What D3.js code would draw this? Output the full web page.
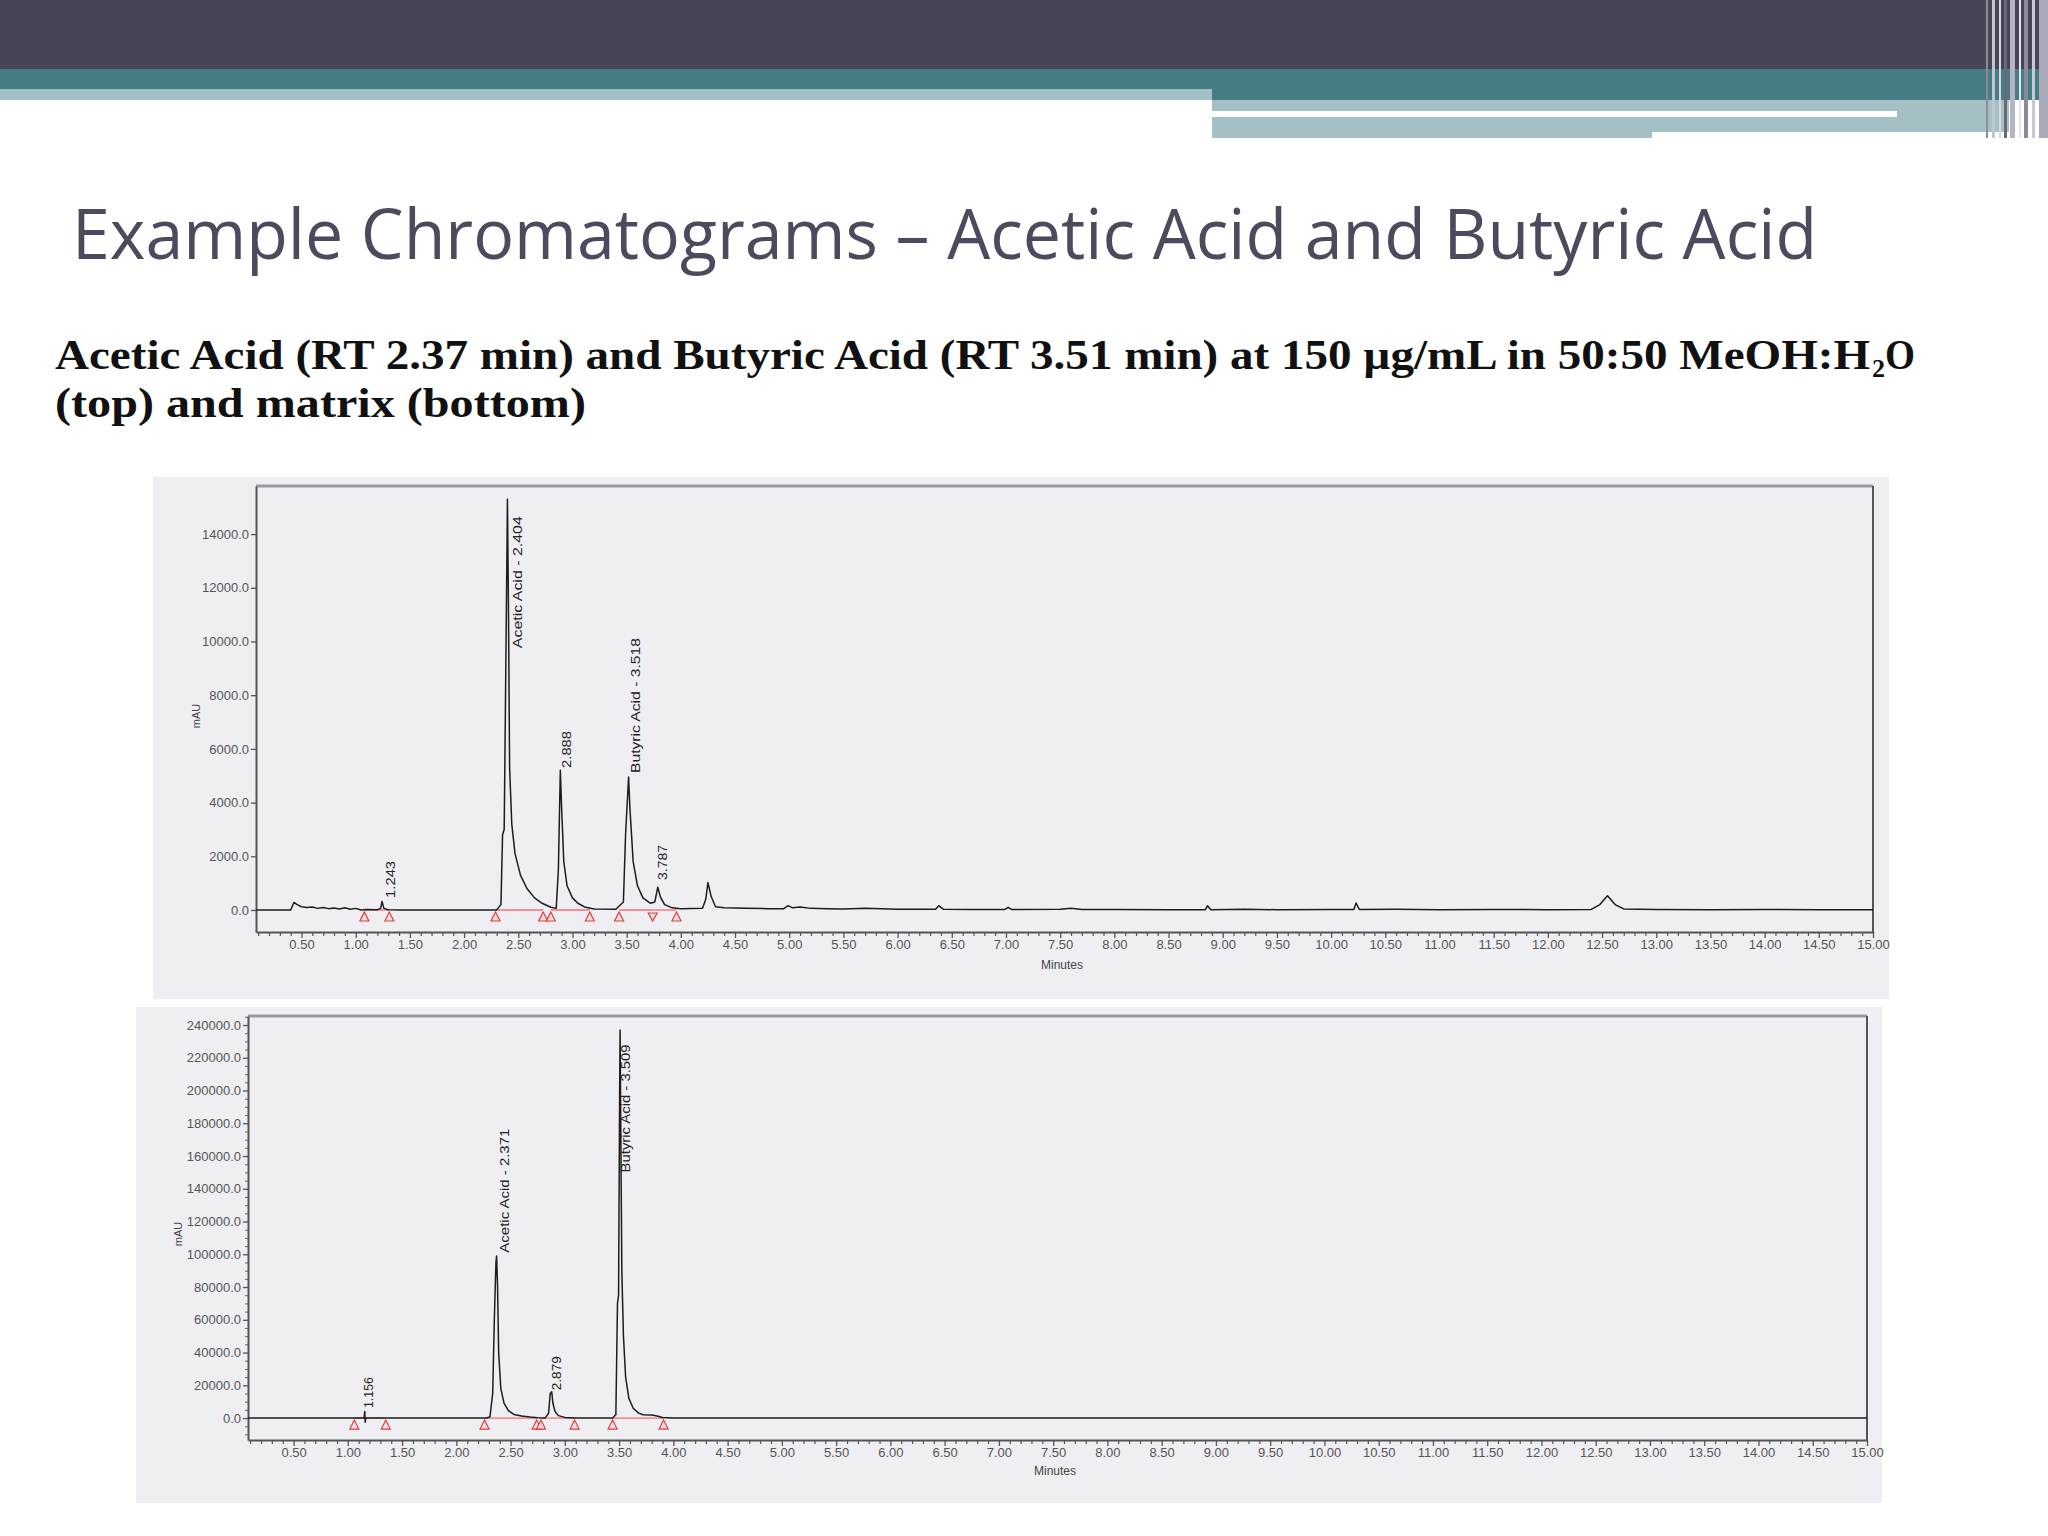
<!DOCTYPE html>
<html><head><meta charset="utf-8">
<script src="https://cdn.jsdelivr.net/npm/d3@7"></script>
<style>body{margin:0;background:#fff}svg{display:block}</style>
</head><body>
<script>
// ---------- text ----------
const titleText = "Example Chromatograms \u2013 Acetic Acid and Butyric Acid";
const subtitleLine1 = "Acetic Acid (RT 2.37 min) and Butyric Acid (RT 3.51 min) at 150 \u00b5g/mL in 50:50 MeOH:H";
const subtitleSub = "2";
const subtitleEnd = "O";
const subtitleLine2 = "(top) and matrix (bottom)";
const xAxisTitle = "Minutes";
const yAxisTitle = "mAU";

// ---------- axes ----------
const xTickValues = [0.5,1.0,1.5,2.0,2.5,3.0,3.5,4.0,4.5,5.0,5.5,6.0,6.5,7.0,7.5,8.0,8.5,9.0,9.5,10.0,10.5,11.0,11.5,12.0,12.5,13.0,13.5,14.0,14.5,15.0];
const xTickLabels = ["0.50","1.00","1.50","2.00","2.50","3.00","3.50","4.00","4.50","5.00","5.50","6.00","6.50","7.00","7.50","8.00","8.50","9.00","9.50","10.00","10.50","11.00","11.50","12.00","12.50","13.00","13.50","14.00","14.50","15.00"];
const topYTicks = [0,2000,4000,6000,8000,10000,12000,14000];
const topYTickLabels = ["0.0","2000.0","4000.0","6000.0","8000.0","10000.0","12000.0","14000.0"];
const bottomYTicks = [0,20000,40000,60000,80000,100000,120000,140000,160000,180000,200000,220000,240000];
const bottomYTickLabels = ["0.0","20000.0","40000.0","60000.0","80000.0","100000.0","120000.0","140000.0","160000.0","180000.0","200000.0","220000.0","240000.0"];

// ---------- traces [minutes, mAU] ----------
const topTrace = [[0.08,0],[0.40,0],[0.43,280],[0.46,200],[0.50,120],[0.55,90],[0.60,110],[0.65,60],[0.70,90],[0.75,50],[0.80,70],[0.85,40],[0.90,80],[0.95,30],[1.00,60],[1.05,0],[1.10,20],[1.20,10],[1.23,60],[1.243,320],[1.26,60],[1.30,10],[1.40,0],[2.30,0],[2.34,200],[2.355,2800],[2.37,3000],[2.385,9000],[2.40,15300],[2.41,11000],[2.42,5300],[2.44,3200],[2.47,2100],[2.52,1300],[2.58,800],[2.65,450],[2.72,250],[2.80,100],[2.85,60],[2.87,1500],[2.888,5200],[2.90,3800],[2.92,1800],[2.95,900],[3.00,450],[3.05,250],[3.12,100],[3.20,40],[3.40,30],[3.47,300],[3.49,2800],[3.518,4950],[3.53,3800],[3.56,1800],[3.60,900],[3.65,450],[3.72,250],[3.76,300],[3.787,850],[3.81,500],[3.85,200],[3.92,80],[4.00,50],[4.20,60],[4.23,400],[4.25,1020],[4.28,500],[4.32,120],[4.40,80],[4.60,60],[4.80,50],[4.95,50],[4.99,160],[5.03,80],[5.10,110],[5.20,60],[5.35,50],[5.50,40],[5.70,60],[6.00,30],[6.35,30],[6.38,160],[6.42,30],[6.70,20],[6.99,20],[7.02,100],[7.05,20],[7.50,30],[7.60,60],[7.70,20],[8.00,20],[8.50,10],[8.84,10],[8.86,160],[8.89,10],[9.20,30],[9.50,10],[10.00,20],[10.21,20],[10.23,260],[10.26,20],[10.60,30],[11.00,10],[11.50,20],[12.00,10],[12.40,20],[12.48,200],[12.55,530],[12.62,200],[12.70,40],[13.00,20],[13.50,10],[14.00,20],[14.50,10],[15.0,10]];
const bottomTrace = [[0.08,0],[1.150,0],[1.156,4000],[1.160,-2500],[1.166,0],[2.28,0],[2.31,800],[2.335,15000],[2.35,60000],[2.365,95000],[2.371,99000],[2.38,80000],[2.39,40000],[2.41,18000],[2.44,9000],[2.48,4500],[2.53,2200],[2.60,1200],[2.68,600],[2.75,200],[2.82,100],[2.85,3000],[2.865,15000],[2.879,16000],[2.89,9000],[2.91,4000],[2.94,1500],[3.00,400],[3.10,100],[3.44,0],[3.47,2000],[3.485,70000],[3.495,75000],[3.505,200000],[3.509,237000],[3.515,180000],[3.525,90000],[3.54,50000],[3.56,25000],[3.59,12000],[3.63,6000],[3.68,3000],[3.72,2000],[3.80,1800],[3.85,1200],[3.90,300],[4.0,0],[15.0,0]];

// ---------- peak labels ----------
const topPeakNames = ["1.243","Acetic Acid - 2.404","2.888","Butyric Acid - 3.518","3.787"];
const topPeakTimes = [1.243,2.404,2.888,3.518,3.787];
const topPeakLabelStart = [450,9750,5290,5100,1120];
const bottomPeakNames = ["1.156","Acetic Acid - 2.371","2.879","Butyric Acid - 3.509"];
const bottomPeakTimes = [1.156,2.371,2.879,3.509];
const bottomPeakLabelStart = [6100,101000,17000,150000];

// ---------- integration events ----------
const topEventTimes = [1.08,1.31,2.29,2.73,2.80,3.16,3.43,3.74,3.96];
const topEventDown = [false,false,false,false,false,false,false,true,false];
const topBaselineSegments = [[1.08,1.31],[2.29,2.73],[2.80,3.16],[3.43,3.74],[3.74,3.96]];
const bottomEventTimes = [1.06,1.35,2.26,2.74,2.78,3.09,3.44,3.91];
const bottomEventDown = [false,false,false,false,false,false,false,false];
const bottomBaselineSegments = [[1.06,1.35],[2.26,2.74],[2.78,3.09],[3.44,3.91]];

// ================= drawing =================
const W = 2048, H = 1536;
const svg = d3.select("body").append("svg").attr("width", W).attr("height", H);
svg.append("rect").attr("width", W).attr("height", H).attr("fill", "#ffffff");

// header bands
const hdr = svg.append("g");
hdr.append("rect").attr("x",0).attr("y",0).attr("width",W).attr("height",69).attr("fill","#454556");
hdr.append("rect").attr("x",0).attr("y",69).attr("width",W).attr("height",20).attr("fill","#467c83");
hdr.append("rect").attr("x",0).attr("y",89).attr("width",1212).attr("height",11).attr("fill","#a4c0c5");
hdr.append("rect").attr("x",1212).attr("y",89).attr("width",836).attr("height",11).attr("fill","#467c83");
hdr.append("rect").attr("x",1212).attr("y",100).attr("width",797).attr("height",38).attr("fill","#a4c0c5");
hdr.append("rect").attr("x",1212).attr("y",111).attr("width",685).attr("height",6).attr("fill","#ffffff");
hdr.append("rect").attr("x",1652).attr("y",132).attr("width",357).attr("height",6).attr("fill","#ffffff");
[[1986,2,"#8c8c9c"],[1992,3,"#c4c4d0"],[1999,2,"#d8d8e2"],[2004,3,"#6a6a7c"],[2010,5,"#b4b4c4"],[2019,2,"#e4e4ec"],[2024,4,"#8a8a9c"],[2032,3,"#c8c8d6"],[2039,9,"#a8a8b8"]]
  .forEach(s => hdr.append("rect").attr("x",s[0]).attr("y",0).attr("width",s[1]).attr("height",138).attr("fill",s[2]));

// title
svg.append("text").attr("x",72).attr("y",259).text(titleText)
  .attr("font-family","'Open Sans', 'Noto Sans', sans-serif").attr("font-size",70)
  .attr("fill","#4b4b5d").attr("textLength",1745).attr("lengthAdjust","spacingAndGlyphs");

// subtitle
const subFont = "'Liberation Serif', 'DejaVu Serif', serif";
svg.append("text").attr("x",55).attr("y",369).text(subtitleLine1)
  .attr("font-family",subFont).attr("font-weight","bold").attr("font-size",42)
  .attr("fill","#111").attr("textLength",1815).attr("lengthAdjust","spacingAndGlyphs");
svg.append("text").attr("x",1872).attr("y",377).text(subtitleSub)
  .attr("font-family",subFont).attr("font-weight","bold").attr("font-size",26).attr("fill","#111");
svg.append("text").attr("x",1885).attr("y",369).text(subtitleEnd)
  .attr("font-family",subFont).attr("font-weight","bold").attr("font-size",42).attr("fill","#111")
  .attr("textLength",30).attr("lengthAdjust","spacingAndGlyphs");
svg.append("text").attr("x",55).attr("y",417).text(subtitleLine2)
  .attr("font-family",subFont).attr("font-weight","bold").attr("font-size",42)
  .attr("fill","#111").attr("textLength",531).attr("lengthAdjust","spacingAndGlyphs");

function drawPanel(cfg) {
  const g = svg.append("g");
  g.append("rect").attr("x",cfg.bg[0]).attr("y",cfg.bg[1]).attr("width",cfg.bg[2]).attr("height",cfg.bg[3]).attr("fill","#efeef2");
  const x = d3.scaleLinear().domain([0.08, 15.0]).range([cfg.left, cfg.right]);
  const y = d3.scaleLinear().domain(cfg.yDomain).range([cfg.bottom, cfg.top]);
  const font = "'Liberation Sans', Arial, sans-serif";

  // frame (top + right)
  g.append("line").attr("x1",cfg.left).attr("x2",cfg.right).attr("y1",cfg.top).attr("y2",cfg.top)
    .attr("stroke","#9a9aa0").attr("stroke-width",3);
  g.append("line").attr("x1",cfg.right).attr("x2",cfg.right).attr("y1",cfg.top).attr("y2",cfg.bottom)
    .attr("stroke","#555").attr("stroke-width",2);

  // x minor ticks
  const minor = d3.range(1, 150).map(i => i/10).filter(v => v >= 0.1 && Math.abs(v*2 - Math.round(v*2)) > 1e-6);
  const xMinor = g.append("g").attr("transform",`translate(0,${cfg.bottom})`)
    .call(d3.axisBottom(x).tickValues(minor).tickSize(4).tickFormat("").tickSizeOuter(0));
  xMinor.select(".domain").remove();
  xMinor.selectAll("line").attr("stroke","#555").attr("stroke-width",1.2);
  // x major
  const xAx = g.append("g").attr("transform",`translate(0,${cfg.bottom})`)
    .call(d3.axisBottom(x).tickValues(xTickValues).tickSize(6).tickPadding(2)
      .tickFormat((d,i) => xTickLabels[i]).tickSizeOuter(0));
  xAx.select(".domain").attr("stroke","#555").attr("stroke-width",2);
  xAx.selectAll("line").attr("stroke","#555").attr("stroke-width",1.3);
  xAx.selectAll("text").attr("font-family",font).attr("font-size",13).attr("fill","#555");

  // y minor ticks
  if (cfg.yMinor) {
    const yMin = g.append("g").attr("transform",`translate(${cfg.left},0)`)
      .call(d3.axisLeft(y).tickValues(cfg.yMinor).tickSize(3).tickFormat("").tickSizeOuter(0));
    yMin.select(".domain").remove();
    yMin.selectAll("line").attr("stroke","#666").attr("stroke-width",1);
  }
  const yAx = g.append("g").attr("transform",`translate(${cfg.left},0)`)
    .call(d3.axisLeft(y).tickValues(cfg.yTicks).tickSize(5).tickPadding(2)
      .tickFormat((d,i) => cfg.yLabels[i]).tickSizeOuter(0));
  yAx.select(".domain").attr("stroke","#555").attr("stroke-width",2);
  yAx.selectAll("line").attr("stroke","#555").attr("stroke-width",1.3);
  yAx.selectAll("text").attr("font-family",font).attr("font-size",13).attr("fill","#555");

  // axis titles
  g.append("text").attr("x",cfg.xTitle[0]).attr("y",cfg.xTitle[1]).attr("text-anchor","middle")
    .attr("font-family",font).attr("font-size",12).attr("fill","#444").text(xAxisTitle);
  g.append("text").attr("transform",`translate(${cfg.yTitle[0]},${cfg.yTitle[1]}) rotate(-90)`)
    .attr("text-anchor","middle").attr("font-family",font).attr("font-size",11).attr("fill","#444").text(yAxisTitle);

  // integration baselines
  cfg.segments.forEach(s => {
    g.append("line").attr("x1",x(s[0])).attr("x2",x(s[1])).attr("y1",y(0)).attr("y2",y(0))
      .attr("stroke","#f07070").attr("stroke-width",1.3);
  });
  // trace
  const line = d3.line().x(d => x(d[0])).y(d => y(d[1]));
  g.append("path").datum(cfg.trace).attr("d",line).attr("fill","none")
    .attr("stroke","#1d1d1d").attr("stroke-width",1.5).attr("stroke-linejoin","round");

  // event markers
  cfg.events.forEach((t,i) => {
    const cx = x(t), by = y(0);
    const pts = cfg.down[i]
      ? [[cx-4.5,by+3],[cx+4.5,by+3],[cx,by+11]]
      : [[cx,by+2],[cx-4.5,by+11],[cx+4.5,by+11]];
    g.append("polygon").attr("points",pts.map(p=>p.join(",")).join(" "))
      .attr("fill","#f6dede").attr("stroke","#e03c3c").attr("stroke-width",1.2);
  });

  // peak labels
  cfg.names.forEach((name,i) => {
    const px = x(cfg.times[i]) + cfg.offsets[i] + 4.5;
    const py = y(cfg.starts[i]);
    g.append("text").attr("transform",`translate(${px},${py}) rotate(-90)`)
      .attr("font-family",font).attr("font-size",13).attr("fill","#222")
      .attr("textLength",cfg.lens[i]).attr("lengthAdjust","spacingAndGlyphs").text(name);
  });
}

drawPanel({
  bg:[153,477,1736,522], left:256, right:1873, top:486, bottom:932,
  yDomain:[-820,15790], yTicks:topYTicks, yLabels:topYTickLabels, yMinor:null,
  xTitle:[1062,969], yTitle:[200,716],
  trace:topTrace, events:topEventTimes, down:topEventDown, segments:topBaselineSegments,
  names:topPeakNames, times:topPeakTimes, starts:topPeakLabelStart,
  offsets:[8,10,6,7,5], lens:[37,132,37,135,35]
});
drawPanel({
  bg:[136,1007,1746,496], left:248, right:1867, top:1016, bottom:1440,
  yDomain:[-13400,245500], yTicks:bottomYTicks, yLabels:bottomYTickLabels,
  yMinor:d3.range(-10000,245001,5000).filter(v => v % 20000 !== 0),
  xTitle:[1055,1475], yTitle:[182,1234],
  trace:bottomTrace, events:bottomEventTimes, down:bottomEventDown, segments:bottomBaselineSegments,
  names:bottomPeakNames, times:bottomPeakTimes, starts:bottomPeakLabelStart,
  offsets:[4,8,5,5], lens:[31,124,34,128]
});
</script>
</body></html>
